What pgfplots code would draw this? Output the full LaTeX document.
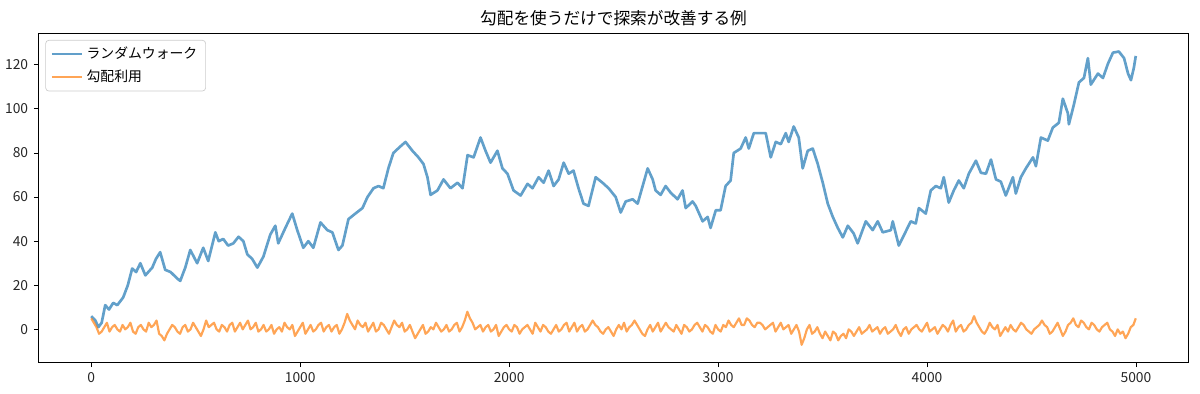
\documentclass[border=0pt]{standalone}
\usepackage{pgfplots}
\pgfplotsset{compat=1.18}
\usepackage{pgfplotstable}
\usepackage{fontspec}
\setmainfont{Noto Sans CJK JP}
\definecolor{mplblue}{RGB}{31,119,180}
\definecolor{mplorange}{RGB}{255,127,14}

\pgfplotstableread{
x y
0 6
20 4
34 1
50 3
67 11
85 9
105 12
125 11
153 14.5
175 20
196 27.6
215 26
235 30
259 24.5
292 28
310 32
330 35
354 27
380 26
412 23
426 22
450 28
474 36
507 30
536 37
560 31
594 44
610 40
632 41
655 38
680 39
705 42
728 40
747 34
770 32
795 28
824 33
857 43
881 47
895 39
929 46
962 52.5
986 45
1015 37
1039 40
1063 37
1097 48.5
1130 45
1154 44
1183 36
1202 38
1231 50
1264 52.5
1298 55
1322 60
1351 64
1375 65
1398 64
1422 73
1446 80
1480 83
1504 85
1537 81
1566 78
1590 75
1609 69
1624 61
1657 63
1686 68
1719 64
1753 66.5
1777 64
1801 79
1830 78
1863 87
1887 81
1911 75.6
1944 81
1968 73
1992 70.6
2021 63
2055 60.7
2088 66
2112 64
2141 69
2165 66.5
2189 72
2213 65
2237 68
2261 75.6
2285 70.6
2308 72
2332 64
2356 57
2380 56
2414 69
2447 66.5
2476 64
2510 60
2534 53
2558 58
2591 59
2615 57
2639 65
2663 73
2687 68
2701 63
2725 61
2749 65
2773 62
2806 59
2830 63
2845 55
2878 58
2893 56
2926 49
2950 51
2964 46
2989 54
3012 54
3036 65
3060 67.5
3075 80
3108 82
3132 87
3147 82
3171 89
3204 89
3228 89
3252 78
3276 85
3300 84
3324 89
3338 85
3362 92
3386 87
3405 73
3429 81
3453 82
3477 75
3501 66.5
3525 57
3549 51
3573 46
3597 41.7
3621 47
3649 43.5
3668 39
3707 49
3740 45
3764 49
3788 44
3827 45
3836 49
3865 38
3889 42.6
3922 49
3946 48
3961 55
3994 52.5
4018 63
4042 65
4066 64
4080 69
4104 57.5
4128 63
4152 67.5
4176 64
4200 70.6
4234 76.5
4258 71
4282 70.6
4306 77
4330 68
4353 67
4377 60.7
4411 69
4425 61.6
4449 69
4473 73
4507 78
4521 74
4545 87
4578 85.6
4602 91.5
4631 93.7
4650 104.6
4674 98
4679 93
4703 102
4727 112
4751 114
4770 123
4784 111
4818 116
4842 114
4866 120.5
4890 125.5
4918 126
4943 123
4962 116
4976 113
4990 118.7
4999 124
}\randomwalk

\pgfplotstableread{
x y
0 5
12.5 3
25 1
37.5 -2
50 -1
62.5 1
75 3
87.5 -1
100 1
112.5 2
125 0
137.5 -1
150 2
162.5 0
175 1
187.5 3
200 -1
212.5 -2
225 1
237.5 2
250 0
262.5 -1
275 3
287.5 1
300 2
312.5 4
325 -2
337.5 -3
350 -5
362.5 -2
375 0
387.5 2
400 1
412.5 -1
425 -2
437.5 1
450 2
462.5 -1
475 0
487.5 3
500 1
512.5 -1
525 -3
537.5 0
550 4
562.5 1
575 2
587.5 3
600 0
612.5 -1
625 2
637.5 1
650 -1
662.5 2
675 3
687.5 -1
700 1
712.5 3
725 0
737.5 2
750 4
762.5 0
775 1
787.5 3
800 -1
812.5 0
825 2
837.5 -1
850 0
862.5 2
875 -2
887.5 0
900 1
912.5 -1
925 3
937.5 1
950 0
962.5 2
975 -3
987.5 -1
1000 1
1012.5 3
1025 -2
1037.5 0
1050 2
1062.5 -1
1075 0
1087.5 2
1100 3
1112.5 -1
1125 1
1137.5 2
1150 -1
1162.5 1
1175 2
1187.5 -2
1200 0
1212.5 3
1225 7
1237.5 4
1250 2
1262.5 0
1275 4
1287.5 2
1300 1
1312.5 3
1325 -1
1337.5 1
1350 3
1362.5 -1
1375 0
1387.5 3
1400 2
1412.5 0
1425 -2
1437.5 1
1450 4
1462.5 2
1475 1
1487.5 3
1500 -1
1512.5 0
1525 2
1537.5 -1
1550 -4
1562.5 -2
1575 0
1587.5 2
1600 -2
1612.5 -1
1625 1
1637.5 0
1650 3
1662.5 1
1675 -1
1687.5 0
1700 2
1712.5 -1
1725 0
1737.5 2
1750 3
1762.5 -1
1775 1
1787.5 4
1800 8
1812.5 5
1825 3
1837.5 0
1850 1
1862.5 2
1875 -1
1887.5 1
1900 2
1912.5 -1
1925 0
1937.5 2
1950 -3
1962.5 -1
1975 1
1987.5 2
2000 0
2012.5 -1
2025 2
2037.5 1
2050 -2
2062.5 0
2075 1
2087.5 2
2100 0
2112.5 -2
2125 3
2137.5 1
2150 -1
2162.5 2
2175 1
2187.5 -1
2200 -2
2212.5 0
2225 2
2237.5 -1
2250 0
2262.5 2
2275 3
2287.5 -1
2300 1
2312.5 3
2325 -1
2337.5 1
2350 2
2362.5 -1
2375 0
2387.5 2
2400 4
2412.5 2
2425 1
2437.5 -1
2450 -2
2462.5 0
2475 1
2487.5 -1
2500 -3
2512.5 0
2525 2
2537.5 0
2550 3
2562.5 -1
2575 1
2587.5 2
2600 4
2612.5 2
2625 0
2637.5 -2
2650 -3
2662.5 0
2675 2
2687.5 -1
2700 1
2712.5 3
2725 -1
2737.5 1
2750 3
2762.5 1
2775 0
2787.5 -1
2800 2
2812.5 0
2825 -2
2837.5 2
2850 1
2862.5 -1
2875 0
2887.5 2
2900 3
2912.5 1
2925 -1
2937.5 2
2950 1
2962.5 -1
2975 -2
2987.5 2
3000 0
3012.5 -1
3025 2
3037.5 1
3050 4
3062.5 2
3075 1
3087.5 3
3100 5
3112.5 2
3125 2
3137.5 5
3150 4
3162.5 2
3175 1
3187.5 3
3200 3
3212.5 2
3225 0
3237.5 1
3250 2
3262.5 3
3275 -1
3287.5 1
3300 3
3312.5 0
3325 1
3337.5 2
3350 -2
3362.5 0
3375 2
3387.5 -1
3400 -7
3412.5 -4
3425 0
3437.5 2
3450 -2
3462.5 -1
3475 1
3487.5 -2
3500 -4
3512.5 -1
3525 -3
3537.5 -5
3550 -1
3562.5 -2
3575 -5
3587.5 -3
3600 -2
3612.5 -4
3625 0
3637.5 -1
3650 -3
3662.5 -1
3675 1
3687.5 -2
3700 -1
3712.5 0
3725 2
3737.5 -1
3750 0
3762.5 1
3775 -2
3787.5 0
3800 1
3812.5 -2
3825 -1
3837.5 0
3850 2
3862.5 -1
3875 -3
3887.5 0
3900 1
3912.5 -2
3925 0
3937.5 1
3950 2
3962.5 0
3975 -1
3987.5 1
4000 3
4012.5 -1
4025 0
4037.5 1
4050 -2
4062.5 0
4075 2
4087.5 1
4100 -1
4112.5 2
4125 4
4137.5 -1
4150 1
4162.5 2
4175 -1
4187.5 0
4200 2
4212.5 3
4225 6
4237.5 3
4250 1
4262.5 -1
4275 -2
4287.5 0
4300 3
4312.5 1
4325 0
4337.5 2
4350 -3
4362.5 -1
4375 1
4387.5 -1
4400 2
4412.5 0
4425 -1
4437.5 1
4450 3
4462.5 2
4475 0
4487.5 -1
4500 -2
4512.5 0
4525 1
4537.5 2
4550 4
4562.5 2
4575 1
4587.5 -2
4600 -1
4612.5 1
4625 3
4637.5 0
4650 -3
4662.5 -1
4675 2
4687.5 3
4700 5
4712.5 2
4725 1
4737.5 4
4750 3
4762.5 1
4775 0
4787.5 3
4800 2
4812.5 0
4825 -1
4837.5 1
4850 2
4862.5 3
4875 0
4887.5 -1
4900 -3
4912.5 0
4925 -2
4937.5 -1
4950 -4
4962.5 -2
4975 1
4987.5 2
4999 5
}\gradient

\begin{document}
\begin{tikzpicture}
\useasboundingbox (-23.4pt,-18.6pt) rectangle (696.6pt,217.2pt);
\begin{axis}[
  scale only axis,
  width=689.4pt, height=197.4pt,
  xmin=-250, xmax=5249,
  ymin=-14.8, ymax=134.4,
  axis line style={line width=0.6pt},
  tick align=outside,
  tick style={black, line width=0.5pt},
  major tick length=3pt,
  xtick={0,1000,2000,3000,4000,5000},
  ytick={0,20,40,60,80,100,120},
  xtick pos=bottom, ytick pos=left,
  scaled x ticks=false,
  /pgf/number format/assume math mode=true,
  /pgf/number format/set thousands separator={},
  tick label style={font=\fontsize{8.3pt}{10pt}\selectfont, color=black!85},
  title={勾配を使うだけで探索が改善する例},
  title style={font=\fontsize{10pt}{12pt}\selectfont, yshift=-5pt},
  legend style={at={(0.0055,0.979)}, anchor=north west,
    draw=black!20, rounded corners=2pt, fill=white, fill opacity=0.8, text opacity=1,
    font=\fontsize{8.3pt}{10pt}\selectfont, row sep=1.5pt, inner xsep=3pt, inner ysep=2pt},
  legend cell align=left,
  legend image code/.code={\draw[#1] (0pt,0pt) -- (18pt,0pt);},
]
\addplot[mplblue, opacity=0.7, line width=1.6pt, line join=round] table[x=x,y=y] {\randomwalk};
\addlegendentry{ランダムウォーク}
\addplot[mplorange, opacity=0.7, line width=1.3pt, line join=round] table[x=x,y=y] {\gradient};
\addlegendentry{勾配利用}
\end{axis}
\end{tikzpicture}
\end{document}
